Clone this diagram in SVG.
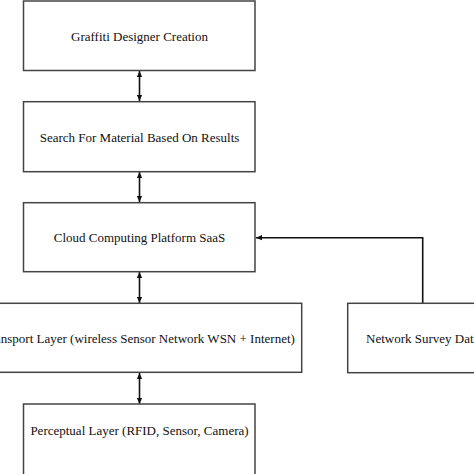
<svg xmlns="http://www.w3.org/2000/svg" width="474" height="474" viewBox="0 0 474 474">
<defs>
<style>
.box{fill:#fff;stroke:#444;stroke-width:1.5}
.lbl{font-family:"Liberation Serif","Times New Roman",serif;font-size:13px;fill:#111;text-anchor:middle}
.con{fill:none;stroke:#111;stroke-width:1.6}
</style>
<marker id="ah" viewBox="0 0 8 8" refX="8" refY="4" markerWidth="7" markerHeight="6" markerUnits="userSpaceOnUse" orient="auto-start-reverse">
<path d="M0,0.5 L8,4 L0,7.5 Z" fill="#111"/>
</marker>
</defs>
<rect width="474" height="474" fill="#fff"/>
<g id="connectors">
<line class="con" x1="139.5" y1="71" x2="139.5" y2="101" marker-start="url(#ah)" marker-end="url(#ah)"/>
<line class="con" x1="139.5" y1="172" x2="139.5" y2="202" marker-start="url(#ah)" marker-end="url(#ah)"/>
<line class="con" x1="139.5" y1="272" x2="139.5" y2="303" marker-start="url(#ah)" marker-end="url(#ah)"/>
<line class="con" x1="139.5" y1="373" x2="139.5" y2="404" marker-start="url(#ah)" marker-end="url(#ah)"/>
<polyline class="con" points="422.7,303.3 422.7,237.7 256,237.7" marker-end="url(#ah)"/>
</g>
<g id="n1">
<rect class="box" x="23.5" y="1" width="231.5" height="69.5"/>
<text class="lbl" x="139.5" y="40.5">Graffiti Designer Creation</text>
</g>
<g id="n2">
<rect class="box" x="23.5" y="101.7" width="231.5" height="70"/>
<text class="lbl" x="139.5" y="141.5">Search For Material Based On Results</text>
</g>
<g id="n3">
<rect class="box" x="23.5" y="202.7" width="231.5" height="69"/>
<text class="lbl" x="139.5" y="242">Cloud Computing Platform SaaS</text>
</g>
<g id="n4">
<rect class="box" x="-22.7" y="303.3" width="324.4" height="69"/>
<text class="lbl" x="139" y="343">Transport Layer (wireless Sensor Network WSN + Internet)</text>
</g>
<g id="n5">
<rect class="box" x="23.5" y="404" width="231.5" height="80"/>
<text class="lbl" x="139.5" y="434.5">Perceptual Layer (RFID, Sensor, Camera)</text>
</g>
<g id="n6">
<rect class="box" x="347.7" y="303.3" width="150" height="69.4"/>
<text class="lbl" x="422.7" y="343">Network Survey Data</text>
</g>
</svg>
